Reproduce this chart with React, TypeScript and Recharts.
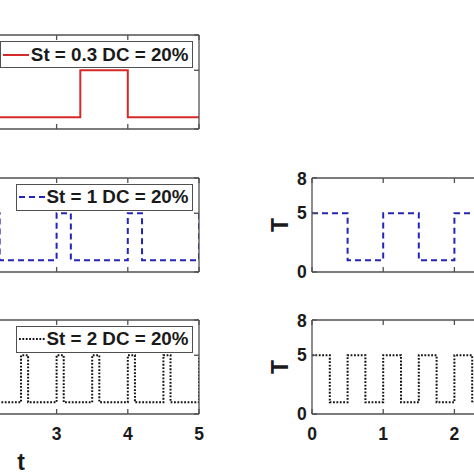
import React from 'react';
import { LineChart, Line, XAxis, YAxis, Legend } from 'recharts';

// switching instants (t) and temperature levels (T) for each case
const tSt03Dc20 = [0, 0.667, 3.333, 4.0, 5];
const TSt03Dc20 = [5, 1, 5, 1, 1];

const tSt1Dc20 = [0, 0.2, 1, 1.2, 2, 2.2, 3, 3.2, 4, 4.2, 5];
const TSt1Dc20 = [5, 1, 5, 1, 5, 1, 5, 1, 5, 1, 5];

const tSt2Dc20 = [0, 0.1, 0.5, 0.6, 1, 1.1, 1.5, 1.6, 2, 2.1, 2.5, 2.6, 3, 3.1, 3.5, 3.6, 4, 4.1, 4.5, 4.6, 5];
const TSt2Dc20 = [5, 1, 5, 1, 5, 1, 5, 1, 5, 1, 5, 1, 5, 1, 5, 1, 5, 1, 5, 1, 5];

const tSt1Dc50 = [0, 0.5, 1, 1.5, 2, 2.5, 3, 3.5, 4, 4.5, 5];
const TSt1Dc50 = [5, 1, 5, 1, 5, 1, 5, 1, 5, 1, 5];

const tSt2Dc50 = [0, 0.25, 0.5, 0.75, 1, 1.25, 1.5, 1.75, 2, 2.25, 2.5, 2.75, 3, 3.25, 3.5, 3.75, 4, 4.25, 4.5, 4.75, 5];
const TSt2Dc50 = [5, 1, 5, 1, 5, 1, 5, 1, 5, 1, 5, 1, 5, 1, 5, 1, 5, 1, 5, 1, 5];

const xTicks = [0, 1, 2, 3, 4, 5];
const yTicks = [0, 5, 8];

const toRows = (t: number[], v: number[]) => t.map((x, i) => ({ t: x, T: v[i] }));

const FONT = '"Liberation Sans", Arial, sans-serif';
const AXIS = '#505050';
const INK = '#1a1a1a';
const PW = 356;
const PH = 94;
const ML = 64;
const MR = 10;
const MT = 10;
const MB = 95;

interface PanelProps {
    x0: number;
    y0: number;
    t: number[];
    v: number[];
    name: string;
    color: string;
    dash?: string;
    showX: boolean;
}

const LegendBox = ({ payload, dash }: any) => {
    const item = payload && payload[0];
    if (!item) return null;
    return (
        <div
            style={{
                display: 'inline-flex',
                alignItems: 'center',
                height: 25,
                border: `1.3px solid ${AXIS}`,
                background: '#fff',
                padding: '0 3px 0 2px',
                fontFamily: FONT,
                fontWeight: 700,
                fontSize: 18.8,
                color: INK,
                whiteSpace: 'nowrap',
            }}
        >
            <svg width={26} height={10} style={{ marginRight: 2 }}>
                <line x1={0} y1={5} x2={26} y2={5} stroke={item.color} strokeWidth={2} strokeDasharray={dash} />
            </svg>
            <span>{item.value}</span>
        </div>
    );
};

const Panel: React.FC<PanelProps> = ({ x0, y0, t, v, name, color, dash, showX }) => {
    const data = toRows(t, v);
    const tickStyle = { fontFamily: FONT, fontWeight: 700, fontSize: 17.5, fill: INK };
    const labelStyle = { fontFamily: FONT, fontWeight: 700, fontSize: 23, fill: INK };
    return (
        <div style={{ position: 'absolute', left: x0 - ML, top: y0 - MT }}>
            <LineChart width={ML + PW + MR} height={MT + PH + MB} data={data} margin={{ top: 0, right: 0, bottom: 0, left: 0 }}>
                <XAxis
                    xAxisId="b"
                    dataKey="t"
                    type="number"
                    domain={[0, 5]}
                    ticks={xTicks}
                    allowDataOverflow
                    height={MB}
                    stroke={AXIS}
                    strokeWidth={1.3}
                    tickSize={-5}
                    tickMargin={18.5}
                    tick={tickStyle}
                    tickFormatter={showX ? (x: number) => String(x) : () => ''}
                    label={showX ? { value: 't', position: 'center', ...labelStyle } : undefined}
                />
                <XAxis
                    xAxisId="top"
                    orientation="top"
                    dataKey="t"
                    type="number"
                    domain={[0, 5]}
                    ticks={xTicks}
                    allowDataOverflow
                    height={MT}
                    stroke={AXIS}
                    strokeWidth={1.3}
                    tickSize={-5}
                    tickFormatter={() => ''}
                />
                <YAxis
                    yAxisId="l"
                    type="number"
                    domain={[0, 8]}
                    ticks={yTicks}
                    allowDataOverflow
                    width={ML}
                    stroke={AXIS}
                    strokeWidth={1.3}
                    tickSize={-5}
                    tickMargin={10.3}
                    tick={tickStyle}
                    label={{ value: 'T', angle: -90, position: 'center', ...labelStyle }}
                />
                <YAxis
                    yAxisId="r"
                    orientation="right"
                    type="number"
                    domain={[0, 8]}
                    ticks={yTicks}
                    allowDataOverflow
                    width={MR}
                    stroke={AXIS}
                    strokeWidth={1.3}
                    tickSize={-5}
                    tickFormatter={() => ''}
                />
                <Legend
                    layout="vertical"
                    align="center"
                    verticalAlign="middle"
                    wrapperStyle={{ right: MR + 6, top: MT + 6, width: 'auto', lineHeight: 'normal' }}
                    content={(p: any) => <LegendBox {...p} dash={dash} />}
                />
                <Line
                    xAxisId="b"
                    yAxisId="l"
                    type="stepAfter"
                    dataKey="T"
                    name={name}
                    stroke={color}
                    strokeWidth={2}
                    strokeDasharray={dash}
                    dot={false}
                    isAnimationActive={false}
                />
            </LineChart>
        </div>
    );
};

const RED = '#d42a2a';
const BLUE = '#2424b8';
const BLACK = '#111111';
const DASH = '6 4';
const DOT = '1.8 1.6';

const App: React.FC = () => (
    <div style={{ position: 'fixed', left: 0, top: 0, width: 474, height: 474, overflow: 'hidden', background: '#fff' }}>
        <Panel x0={-157.5} y0={35} t={tSt03Dc20} v={TSt03Dc20} name="St = 0.3 DC = 20%" color={RED} showX={false} />
        <Panel x0={-157.5} y0={177.5} t={tSt1Dc20} v={TSt1Dc20} name="St = 1 DC = 20%" color={BLUE} dash={DASH} showX={false} />
        <Panel x0={-157.5} y0={319.5} t={tSt2Dc20} v={TSt2Dc20} name="St = 2 DC = 20%" color={BLACK} dash={DOT} showX />
        <Panel x0={312.3} y0={177.5} t={tSt1Dc50} v={TSt1Dc50} name="St = 1 DC = 50%" color={BLUE} dash={DASH} showX={false} />
        <Panel x0={312.3} y0={319.5} t={tSt2Dc50} v={TSt2Dc50} name="St = 2 DC = 50%" color={BLACK} dash={DOT} showX />
    </div>
);

export default App;
